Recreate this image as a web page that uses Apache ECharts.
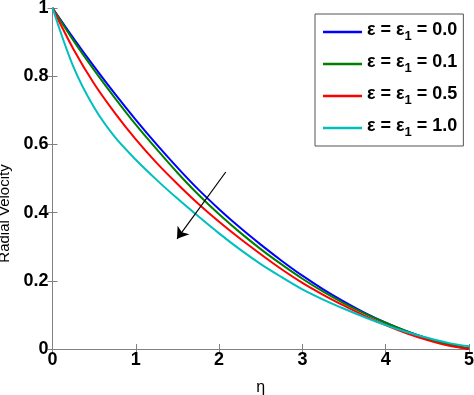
<!DOCTYPE html>
<html>
<head>
<meta charset="utf-8">
<script src="https://cdn.jsdelivr.net/npm/echarts@6/dist/echarts.min.js"></script>
<style>html,body{margin:0;padding:0;background:#fff}#c{width:474px;height:395px}</style>
</head>
<body>
<div id="c"></div>
<script>
var eta = [0,0.25,0.5,0.75,1,1.25,1.5,1.75,2,2.25,2.5,2.75,3,3.25,3.5,3.75,4,4.25,4.5,4.75,5];
var seriesNames = ['e0.0','e0.1','e0.5','e1.0'];
var legendValues = ['0.0','0.1','0.5','1.0'];
var v00 = [1,0.912,0.828,0.748,0.672,0.600,0.532,0.468,0.410,0.356,0.306,0.259,0.215,0.175,0.139,0.106,0.077,0.052,0.031,0.013,0.0];
var v01 = [1,0.905,0.818,0.736,0.658,0.586,0.517,0.453,0.395,0.342,0.293,0.248,0.206,0.168,0.134,0.104,0.077,0.052,0.031,0.014,0.002];
var v05 = [1,0.880,0.778,0.692,0.615,0.546,0.484,0.426,0.373,0.324,0.278,0.234,0.194,0.159,0.127,0.097,0.070,0.046,0.026,0.010,0.0];
var v10 = [1,0.828,0.708,0.621,0.555,0.496,0.441,0.389,0.339,0.292,0.249,0.211,0.175,0.145,0.118,0.093,0.070,0.050,0.033,0.018,0.008];
var colors = ['#0000ff','#008000','#ff0000','#00bfbf'];
var arrowFrom = [2.08, 0.519];
var arrowTo = [1.495, 0.323];
var xTicks = [0,1,2,3,4,5];
var yTicks = [0,0.2,0.4,0.6,0.8,1];

var FONT = '"Liberation Sans", Arial, sans-serif';
function pairs(v){ return eta.map(function(e,i){ return [e, v[i]]; }); }
var allVals = [v00, v01, v05, v10];
var series = allVals.map(function(v, i){
  return {
    name: seriesNames[i], type: 'line', data: pairs(v), showSymbol: false, smooth: 0.3,
    lineStyle: {color: colors[i], width: 2}, itemStyle: {color: colors[i]}, z: 2 + i
  };
});
series.push({
  type: 'lines', coordinateSystem: 'cartesian2d', z: 10,
  symbol: ['none', 'arrow'], symbolSize: [0, 11],
  lineStyle: {color: '#000', width: 1.2, opacity: 1},
  data: [{coords: [arrowFrom, arrowTo]}]
});
var axisColor = '#808080';
function xa(pos, labels){
  return {
    type: 'value', position: pos, min: 0, max: 5, interval: 1,
    name: labels ? 'η' : '', nameLocation: 'middle', nameGap: 31,
    nameTextStyle: {fontFamily: FONT, fontSize: 16, color: '#000'},
    axisLine: {show: true, lineStyle: {color: axisColor, width: 1}},
    axisTick: {show: true, inside: true, length: 5, lineStyle: {color: axisColor}},
    axisLabel: {show: labels, margin: 2, fontFamily: FONT, fontSize: 18, fontWeight: 'bold', color: '#000',
      formatter: function(v){ return xTicks.indexOf(v) >= 0 ? String(v) : ''; }},
    splitLine: {show: false}
  };
}
function ya(pos, labels){
  return {
    type: 'value', position: pos, min: 0, max: 1, interval: 0.2,
    name: labels ? 'Radial Velocity' : '', nameLocation: 'middle', nameGap: 32,
    nameTextStyle: {fontFamily: FONT, fontSize: 15, color: '#000', padding: [0, 70, 0, 0]},
    axisLine: {show: true, lineStyle: {color: axisColor, width: 1}},
    axisTick: {show: true, inside: true, length: 5, lineStyle: {color: axisColor}},
    axisLabel: {show: labels, margin: 4, fontFamily: FONT, fontSize: 18, fontWeight: 'bold', color: '#000',
      formatter: function(v){ var r = Math.round(v*10)/10; return yTicks.indexOf(r) >= 0 ? String(r) : ''; }},
    splitLine: {show: false}
  };
}
var chart = echarts.init(document.getElementById('c'), null, {renderer: 'canvas'});
chart.setOption({
  animation: false,
  backgroundColor: '#fff',
  grid: {left: 52.5, right: 5, top: 8, bottom: 46, containLabel: false, outerBoundsMode: 'none'},
  xAxis: [xa('bottom', true), xa('top', false)],
  yAxis: [ya('left', true), ya('right', false)],
  legend: {
    data: seriesNames, orient: 'vertical', left: 315, top: 14,
    padding: [7, 6, 7, 8], itemGap: 10, itemWidth: 39, itemHeight: 2.5, icon: 'rect',
    backgroundColor: '#fff', borderColor: '#555', borderWidth: 1,
    formatter: function(n){ var i = seriesNames.indexOf(n); return '{a|ε = ε}{s|1}{a| = ' + legendValues[i] + '}'; },
    textStyle: {
      fontFamily: FONT, fontWeight: 'bold', fontSize: 18, color: '#000',
      rich: {
        a: {fontFamily: FONT, fontWeight: 'bold', fontSize: 18, color: '#000', lineHeight: 22, verticalAlign: 'top'},
        s: {fontFamily: FONT, fontWeight: 'bold', fontSize: 13, color: '#000', lineHeight: 2, verticalAlign: 'bottom'}
      }
    }
  },
  series: series
});
</script>
</body>
</html>
